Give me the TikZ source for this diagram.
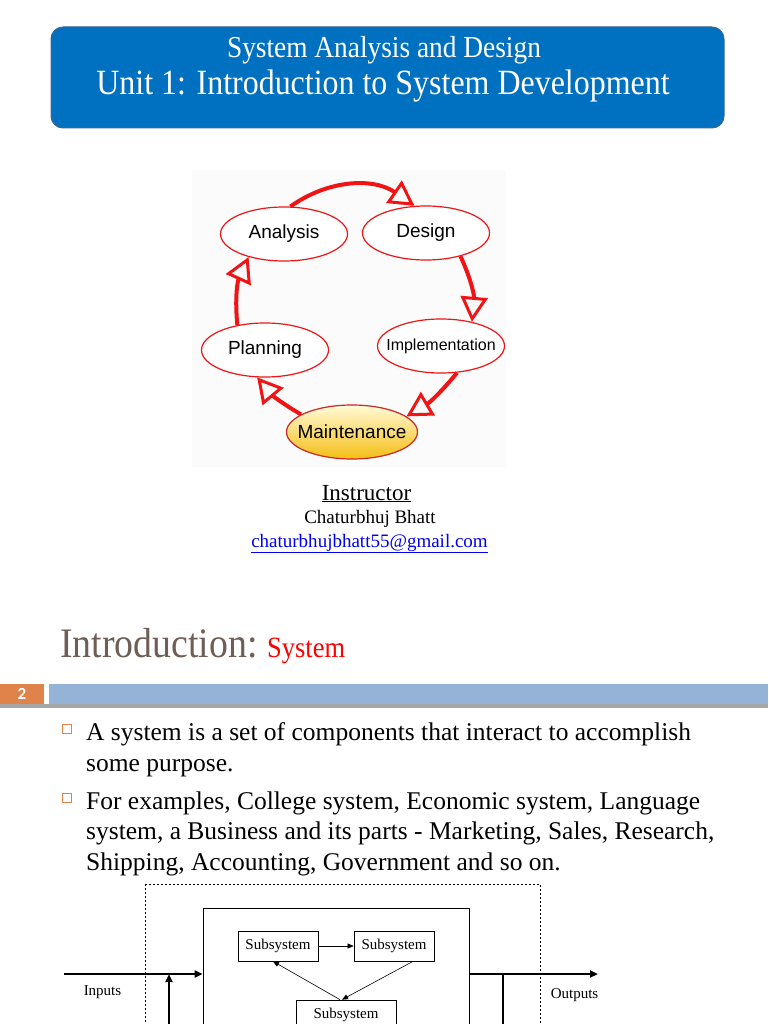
\documentclass[tikz,border=0pt]{standalone}
\usepackage{fontspec}
\setmainfont{Liberation Serif}
\newfontfamily\narrowfont[FakeStretch=0.9]{Liberation Serif}
\newfontfamily\arialfont{Liberation Sans}
\newfontfamily\calibrifont{Carlito}
\usepackage{tikz}
\usetikzlibrary{shapes.geometric, arrows.meta, positioning}
\definecolor{titleblue}{RGB}{0,112,192}
\definecolor{titleedge}{RGB}{65,100,140}
\definecolor{cyclered}{RGB}{240,20,20}
\definecolor{introgray}{RGB}{110,94,86}
\definecolor{barblue}{RGB}{149,179,215}
\definecolor{numorange}{RGB}{224,131,75}
\definecolor{linkblue}{RGB}{0,0,238}
\definecolor{maintop}{RGB}{255,250,215}
\definecolor{mainbot}{RGB}{245,190,20}
\tikzstyle{every node}=[inner sep=0pt]
\tikzstyle{phase}=[ellipse, draw=cyclered, line width=1.2pt, fill=white, inner xsep=-20pt, minimum width=127pt, minimum height=54pt, font=\arialfont\fontsize{19}{19}\selectfont]
\tikzstyle{cycle}=[cyclered, line width=4pt, -{Triangle[open, length=25pt, width=27pt, line width=3pt]}]
\tikzstyle{subbox}=[draw, line width=0.7pt, minimum width=80pt, minimum height=30pt, font=\fontsize{15}{15}\selectfont]
\tikzstyle{flow}=[line width=2.2pt, -{Triangle[length=8pt, width=7pt]}]
\tikzstyle{link}=[line width=0.6pt, -{Triangle[length=6pt, width=5pt]}]
\tikzstyle{bullet}=[draw=numorange, line width=0.8pt, minimum size=9.5pt]
\tikzstyle{body}=[anchor=base west, font=\fontsize{25.5}{31}\selectfont]

\begin{document}
\begin{tikzpicture}[x=1pt, y=-1pt]
  \useasboundingbox (0,0) rectangle (768,1024);
  \node[draw=titleedge, fill=titleblue, rounded corners=12pt, line width=1pt, minimum width=673pt, minimum height=101pt] (title) at (387.5,77.5) {};
  \node[anchor=base, text=white, font=\narrowfont\fontsize{30.4}{30}\selectfont] (course) at (384,58) {System Analysis and Design};
  \node[anchor=base, text=white, font=\narrowfont\fontsize{35.5}{36}\selectfont] (unit) at (383,95) {Unit 1: Introduction to System Development};

  \fill[black!1.5] (192,170) rectangle (506,467);
  \node[phase] (A) at (284,234) {Analysis};
  \node[phase] (D) at (426,233) {Design};
  \node[phase, font=\arialfont\fontsize{16}{16}\selectfont] (I) at (441,346) {Implementation};
  \node[phase] (P) at (265,350) {Planning};
  \node[phase, minimum width=131pt, top color=maintop, bottom color=mainbot, draw={rgb,255:red,200;green,40;blue,40}] (M) at (352,432) {Maintenance};
  \draw[cycle] (A.77) to[bend left=35] (D.113);
  \draw[cycle] (D.-34) to[bend left=15] (I.38);
  \draw[cycle] (I.-59) to[bend left=10] (M.16);
  \draw[cycle] (M.161) to[bend left=10] (P.-106);
  \draw[cycle] (P.138) to[bend left=15] (A.-147);

  \node[anchor=base, font=\fontsize{23}{23}\selectfont] (instr) at (366.5,500) {\underline{Instructor}};
  \node[anchor=base, font=\fontsize{19}{19}\selectfont] (name) at (370,523) {Chaturbhuj Bhatt};
  \node[anchor=base, text=linkblue, font=\fontsize{19}{19}\selectfont] (mail) at (369.5,547) {\underline{chaturbhujbhatt55@gmail.com}};

  \node[anchor=base west, text=introgray, font=\narrowfont\fontsize{42}{42}\selectfont] (intro) at (60,657) {Introduction:};
  \node[anchor=base west, text=red, font=\narrowfont\fontsize{29.4}{29}\selectfont] (sys) at (267,657) {System};

  \fill[black!35] (0,704) rectangle (768,708);
  \fill[barblue] (49,684) rectangle (768,704);
  \node[fill=numorange, minimum width=44pt, minimum height=20pt, text=white, font=\calibrifont\bfseries\fontsize{17}{17}\selectfont] (num) at (22,694) {2};

  \node[bullet] (b1) at (67,729) {};
  \node[body] (l1) at (86,740) {A system is a set of components that interact to accomplish};
  \node[body] (l2) at (86,771) {some purpose.};
  \node[bullet] (b2) at (67,798) {};
  \node[body] (l3) at (86,809) {For examples, College system, Economic system, Language};
  \node[body] (l4) at (86,839) {system, a Business and its parts - Marketing, Sales, Research,};
  \node[body] (l5) at (86,870) {Shipping, Accounting, Government and so on.};

  \draw[line width=0.8pt, dash pattern=on 2pt off 2pt] (145,884) rectangle (540,1040);
  \node[draw, line width=0.8pt, minimum width=266pt, minimum height=150pt] (whole) at (336,983) {};
  \node[subbox] (S1) at (278,946) {Subsystem};
  \node[subbox] (S2) at (394,946) {Subsystem};
  \node[subbox, minimum width=100pt] (S3) at (346,1015) {Subsystem};
  \draw[link] (S1) -- (S2);
  \draw[link] ([xshift=19pt]S2.south) -- ([xshift=-4pt]S3.north);
  \draw[link] ([xshift=-6pt]S3.north) -- ([xshift=-5pt]S1.south);
  \coordinate (in) at (64,974);
  \coordinate (fb) at (169,1040);
  \coordinate (out) at (598,974);
  \coordinate (fo) at (503,1040);
  \draw[flow] (in) -- (in -| whole.west);
  \draw[flow] (fb) -- (fb |- in);
  \draw[flow] (whole.east |- out) -- (out);
  \draw[line width=2.2pt] (fo |- out) -- (fo);
  \node[font=\fontsize{15}{15}\selectfont] (inputs) at (102.5,992) {Inputs};
  \node[font=\fontsize{15}{15}\selectfont] (outputs) at (574.5,995) {Outputs};
\end{tikzpicture}
\end{document}
